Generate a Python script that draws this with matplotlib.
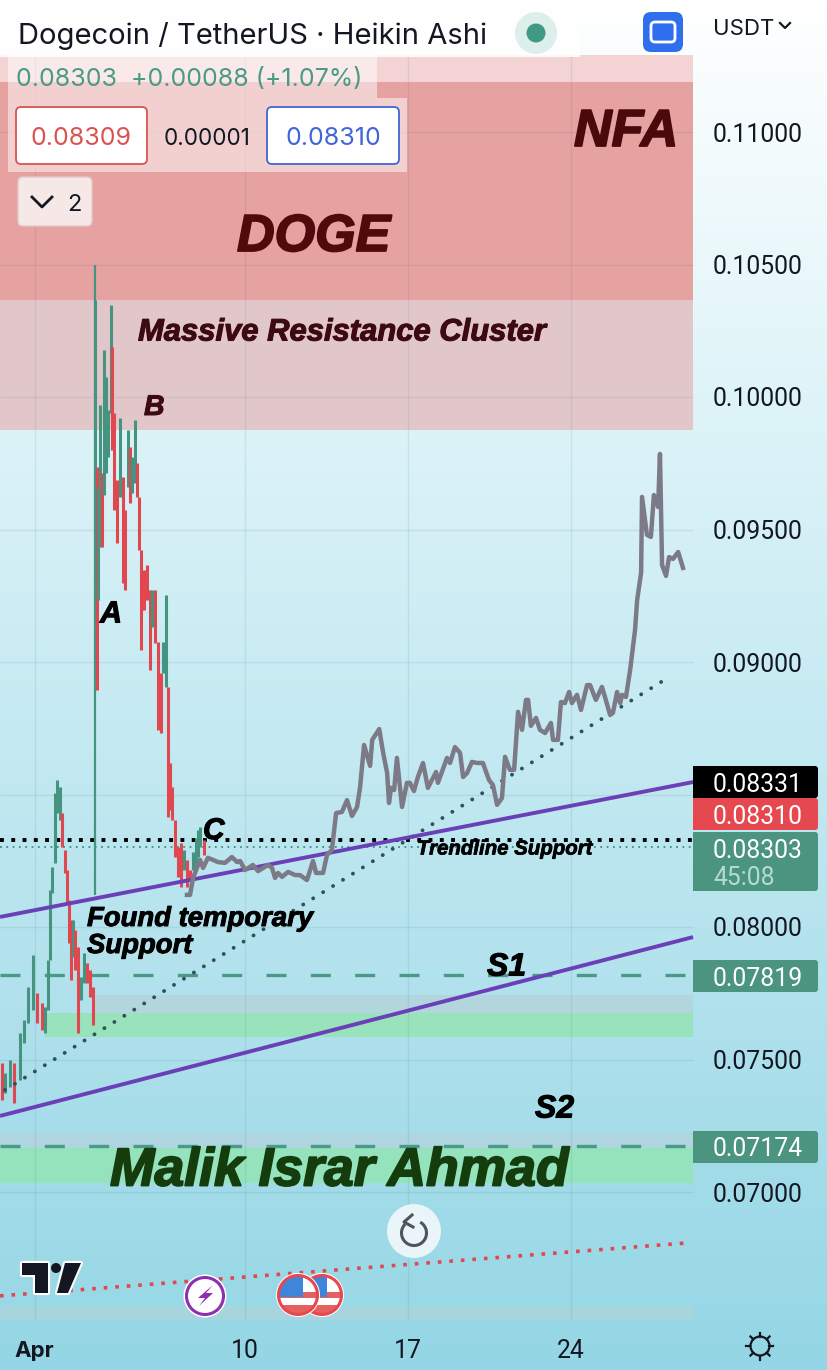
import numpy as np
import matplotlib
matplotlib.use("Agg")
import matplotlib.pyplot as plt
import matplotlib.patheffects as pe
import matplotlib.transforms as mtrans
from matplotlib.patches import Rectangle, Circle, FancyBboxPatch, Polygon, Arc

plt.rcParams['font.family'] = ['Inter', 'DejaVu Sans']

# price ticks and date ticks
tick_prices = [0.11, 0.105, 0.10, 0.095, 0.09, 0.08, 0.075, 0.07]
tick_labels = ['0.11000', '0.10500', '0.10000', '0.09500', '0.09000', '0.08000', '0.07500', '0.07000']
grid_prices = [0.11, 0.105, 0.10, 0.095, 0.09, 0.085, 0.08, 0.075, 0.07]
date_ticks = [1, 10, 17, 24]
date_labels = ['Apr', '10', '17', '24']

# heikin ashi candles, day of april
candle_day = [-0.43, -0.30, -0.09, 0.09, 0.34, 0.51, 0.69, 0.90, 1.07, 1.29, 1.42, 1.55, 1.63, 1.72, 1.85, 1.93,
              2.06, 2.15, 2.27, 2.36, 2.45, 2.53, 2.62, 2.70, 2.83, 2.96, 3.09, 3.22, 3.35, 3.48, 3.56, 3.65,
              3.69, 3.78, 3.86, 3.95, 4.03, 4.12, 4.25, 4.29, 4.38, 4.51, 4.64, 4.76, 4.85, 4.98, 5.06, 5.15,
              5.28, 5.36, 5.45, 5.54, 5.67, 5.79, 5.92, 6.01, 6.14, 6.27, 6.40, 6.48, 6.61, 6.70, 6.78, 6.87,
              7.00, 7.12, 7.25, 7.38, 7.51, 7.64, 7.77, 7.90, 7.98, 8.07, 8.24]
candle_high = [0.07487, 0.07449, 0.07498, 0.07487, 0.07600, 0.07649, 0.07774, 0.07894, 0.07751, 0.07713, 0.07698, 0.07876, 0.08140, 0.08227, 0.08506, 0.08555,
               0.08528, 0.08430, 0.08291, 0.08215, 0.08102, 0.08027, 0.08027, 0.07989, 0.07925, 0.07811, 0.07902, 0.07864, 0.07838, 0.07774, 0.10366, 0.09736,
               0.09657, 0.09970, 0.09714, 0.10178, 0.10076, 0.09951, 0.10348, 0.10189, 0.09940, 0.09687, 0.09921, 0.09698, 0.09574, 0.09876, 0.09812, 0.09774,
               0.09913, 0.09751, 0.09623, 0.09423, 0.09347, 0.09366, 0.09272, 0.09272, 0.09272, 0.09076, 0.08959, 0.09076, 0.09253, 0.08906, 0.08619, 0.08528,
               0.08404, 0.08302, 0.08317, 0.08291, 0.08253, 0.08215, 0.08283, 0.08336, 0.08366, 0.08378, 0.08328]
candle_low = [0.07347, 0.07374, 0.07396, 0.07336, 0.07423, 0.07562, 0.07638, 0.07687, 0.07638, 0.07611, 0.07600, 0.07687, 0.07876, 0.08128, 0.08242, 0.08430,
              0.08404, 0.08302, 0.08204, 0.08091, 0.07940, 0.07800, 0.07887, 0.07838, 0.07600, 0.07725, 0.07789, 0.07789, 0.07736, 0.07630, 0.08932, 0.08895,
              0.09234, 0.09434, 0.09434, 0.09630, 0.09714, 0.09774, 0.09940, 0.09800, 0.09574, 0.09449, 0.09623, 0.09298, 0.09272, 0.09661, 0.09600, 0.09638,
              0.09676, 0.09623, 0.09423, 0.09045, 0.09196, 0.09234, 0.08970, 0.09132, 0.09072, 0.08744, 0.08732, 0.08959, 0.08906, 0.08415, 0.08442, 0.08404,
              0.08264, 0.08189, 0.08151, 0.08215, 0.08151, 0.08177, 0.08215, 0.08215, 0.08264, 0.08302, 0.08272]
candle_up = [0, 1, 1, 0, 1, 1, 1, 1, 0, 0, 1, 1, 1, 1, 1, 1,
             1, 0, 0, 0, 0, 0, 1, 0, 0, 1, 1, 0, 0, 0, 1, 0,
             1, 1, 0, 1, 1, 1, 1, 0, 0, 0, 1, 0, 0, 1, 0, 1,
             1, 0, 0, 0, 0, 0, 0, 1, 0, 0, 0, 1, 1, 0, 0, 0,
             0, 0, 0, 1, 0, 0, 1, 1, 1, 1, 0]

# the long upper and lower shadow of the spike candle
spike_day = 3.56
spike_high = 0.10498
spike_low = 0.08121

# line series on the right side of the candles
line_day = [7.51, 7.64, 7.77, 8.07, 8.20, 8.41, 8.63, 8.84, 9.14, 9.44, 9.66, 9.79, 10.00, 10.34, 10.56, 10.99, 11.16,
            11.29, 11.42, 11.59, 11.85, 12.15, 12.36, 12.66, 12.92, 13.05, 13.35, 13.52, 13.73, 13.91, 14.16, 14.38,
            14.59, 14.81, 14.94, 15.11, 15.37, 15.46, 15.76, 15.93, 16.10, 16.18, 16.27, 16.40, 16.52, 16.74, 16.95,
            17.08, 17.25, 17.42, 17.64, 17.85, 18.20, 18.28, 18.67, 18.80, 19.01, 19.23, 19.36, 19.53, 19.74, 19.96,
            20.21, 20.47, 20.64, 20.82, 21.03, 21.16, 21.37, 21.55, 21.72, 21.89, 22.06, 22.15, 22.27, 22.49, 22.66,
            22.88, 23.13, 23.22, 23.43, 23.56, 23.73, 23.91, 24.03, 24.25, 24.42, 24.68, 24.81, 25.06, 25.32, 25.45,
            25.67, 25.79, 25.97, 26.10, 26.18, 26.35, 26.53, 26.74, 26.83, 27.00, 27.04, 27.25, 27.42, 27.55, 27.73,
            27.81, 27.90, 28.07, 28.20, 28.37, 28.59, 28.80]
line_price = [0.08121, 0.08121, 0.08185, 0.08253, 0.08223, 0.08261, 0.08253, 0.08245, 0.08242, 0.08264, 0.08245, 0.08249, 0.08215, 0.08234, 0.08211, 0.08234, 0.08223,
              0.08185, 0.08204, 0.08189, 0.08208, 0.08196, 0.08196, 0.08177, 0.08249, 0.08204, 0.08204, 0.08272, 0.08291, 0.08430, 0.08434, 0.08479,
              0.08419, 0.08453, 0.08528, 0.08687, 0.08608, 0.08706, 0.08747, 0.08657, 0.08581, 0.08468, 0.08525, 0.08517, 0.08638, 0.08453, 0.08544,
              0.08544, 0.08513, 0.08566, 0.08619, 0.08525, 0.08585, 0.08544, 0.08638, 0.08619, 0.08679, 0.08657, 0.08566, 0.08581, 0.08623, 0.08619,
              0.08619, 0.08555, 0.08536, 0.08461, 0.08487, 0.08642, 0.08593, 0.08593, 0.08812, 0.08744, 0.08857, 0.08857, 0.08759, 0.08789, 0.08744,
              0.08732, 0.08770, 0.08706, 0.08706, 0.08849, 0.08845, 0.08887, 0.08845, 0.08876, 0.08819, 0.08913, 0.08913, 0.08857, 0.08906, 0.08868,
              0.08800, 0.08808, 0.08887, 0.08845, 0.08876, 0.08868, 0.08970, 0.09121, 0.09234, 0.09336, 0.09623, 0.09480, 0.09472, 0.09630, 0.09585,
              0.09785, 0.09366, 0.09325, 0.09396, 0.09389, 0.09415, 0.09355]

# drawn trendlines, day then price
support_day = [-0.515, 29.23]
support_a = [0.08038, 0.08547]
support_b = [0.07287, 0.07962]
rising_day = [-0.30, 27.94]
rising_price = [0.07385, 0.08929]
red_day = [-0.515, 29.0]
red_price = [0.06608, 0.06808]

# levels
bid_level = 0.08328
last_level = 0.08303
s1_level = 0.07819
s2_level = 0.07174

# zones, price low / high
zone_top = (0.11189, 0.11291)
zone_red = (0.10366, 0.11189)
zone_pink = (0.09876, 0.10366)
zone_green1 = (0.07585, 0.07676)
zone_gray1 = (0.07676, 0.07743)
zone_green2 = (0.07034, 0.07166)
zone_gray2 = (0.07166, 0.07223)
zone_gray3 = (0.06517, 0.0657)

W, H = 828, 1370
PX_DAY = 23.3
PX_PRICE = 26500.0
CHART_RIGHT = 693
CHART_BOTTOM = 1320

fig = plt.figure(figsize=(W / 100, H / 100), dpi=100)
ax = fig.add_axes([0, 0, 1, 1])
ax.set_xlim(1 - 35.3 / PX_DAY, 1 + (W - 35.3) / PX_DAY)
ax.set_ylim(0.07 - (H - 1192) / PX_PRICE, 0.07 + 1192 / PX_PRICE)
ax.axis('off')
day_right = ax.get_xlim()[0] + CHART_RIGHT / PX_DAY

# background gradient over the full picture
stops = [0, 430, 1370]
stop_cols = np.array([[255, 255, 255], [220, 243, 248], [148, 214, 229]]) / 255.0
rows = np.arange(H)
grad = np.stack([np.interp(rows, stops, stop_cols[:, i]) for i in range(3)], axis=1)[:, None, :]
ax.imshow(grad, extent=(*ax.get_xlim(), *ax.get_ylim()), aspect='auto', zorder=0, origin='upper')


def zone(bounds, color, start=None, alpha=1.0):
    x0 = ax.get_xlim()[0] if start is None else start
    ax.add_patch(Rectangle((x0, bounds[0]), day_right - x0, bounds[1] - bounds[0],
                           fc=color, ec='none', alpha=alpha, zorder=1))


zone(zone_top, '#f3d3d3')
zone(zone_red, '#e6a1a1')
zone(zone_pink, '#e2c7ca')
zone(zone_gray1, '#b3d6de', start=3.56)
zone(zone_green1, '#98e3bb', start=1.42)
zone(zone_gray2, '#aed5e0')
zone(zone_green2, '#94e3bc')
zone(zone_gray3, '#a6d5dd')

# grid stops at the price column
bottom_price = ax.get_ylim()[1] - CHART_BOTTOM / PX_PRICE
top_price = ax.get_ylim()[1] - 55 / PX_PRICE
ax.hlines(grid_prices, ax.get_xlim()[0], day_right, color='#4a7a85', alpha=0.13, lw=1, zorder=2)
ax.vlines(date_ticks, bottom_price, top_price, color='#4a7a85', alpha=0.13, lw=1, zorder=2)

# levels
ax.hlines(last_level, ax.get_xlim()[0], day_right, color='#3f8f80', lw=1.3, linestyles=[(0, (1, 2.5))], zorder=3)
ax.plot([ax.get_xlim()[0], day_right], [bid_level, bid_level], color='black', lw=2.8,
        linestyle=(0, (1, 1.9)), dash_capstyle='butt', zorder=3)
for lev in (s1_level, s2_level):
    ax.plot([ax.get_xlim()[0], day_right], [lev, lev], color='#4a9a87', lw=2.4,
            linestyle=(0, (6, 7.3)), dash_capstyle='butt', zorder=3)

# candles
up_col, down_col = '#45947f', '#e0474f'
cols = [up_col if u else down_col for u in candle_up]
ax.vlines(spike_day, spike_low, spike_high, color=up_col, lw=1.6, zorder=4)
ax.vlines(candle_day, candle_low, candle_high, colors=cols, lw=2.2, zorder=4)

# trendlines
ax.plot(support_day, support_a, color='#6a3fb8', lw=2.8, solid_capstyle='butt', zorder=6)
ax.plot(support_day, support_b, color='#6a3fb8', lw=2.8, solid_capstyle='butt', zorder=6)
ax.plot(rising_day, rising_price, color='#2f5058', lw=2.8, linestyle=(0, (0.01, 3)),
        dash_capstyle='round', zorder=5)
ax.plot(red_day, red_price, color='#e0484f', lw=2.6, linestyle=(0, (1, 2.2)), dash_capstyle='butt', zorder=5)

# grey line
ax.plot(line_day, line_price, color='#7c7a86', lw=3.2, solid_joinstyle='round', zorder=7)

# overlay in pixels for the app chrome and the hand written notes
ov = fig.add_axes([0, 0, 1, 1], facecolor='none')
ov.set_xlim(0, W)
ov.set_ylim(H, 0)
ov.axis('off')

NOTE = ['Liberation Sans', 'DejaVu Sans']
MID = 'center_baseline'


def note(x, y, s, size, color='black'):
    t = ov.text(x, y, s, fontsize=size, color=color, family=NOTE, weight='bold', style='italic',
                ha='left', va=MID, zorder=8)
    t.set_path_effects([pe.withStroke(linewidth=size * 0.035, foreground=color)])


def box(x0, y0, x1, y1, fc, ec='none', lw=0, r=5, alpha=1.0, z=9):
    ov.add_patch(FancyBboxPatch((x0 + r, y0 + r), x1 - x0 - 2 * r, y1 - y0 - 2 * r,
                                boxstyle=f'round,pad={r},rounding_size={r}',
                                fc=fc, ec=ec, lw=lw, alpha=alpha, zorder=z))


note(574, 127, 'NFA', 37.5, '#4a0a0c')
note(237, 232, 'DOGE', 37.5, '#4f0a0c')
note(138, 329, 'Massive Resistance Cluster', 22.3, '#3d0a12')
note(144, 405, 'B', 20.5, '#3d0a12')
note(100, 611, 'A', 22)
note(203, 828, 'C', 21.5)
note(87, 916, 'Found temporary', 19.8)
note(87, 943, 'Support', 19.8)
note(417, 847, 'Trendline Support', 14.7)
note(487, 964, 'S1', 23)
note(535, 1106, 'S2', 23)
note(110, 1166, 'Malik Israr Ahmad', 38.5, '#143c0c')

# header
ov.add_patch(Rectangle((0, 0), 580, 57, fc='white', ec='none', alpha=0.85, zorder=9))
ov.text(18, 33, 'Dogecoin / TetherUS · Heikin Ashi', fontsize=21, color='#131722', va=MID, zorder=10)
ov.add_patch(Rectangle((8, 55), 369, 43, fc='white', ec='none', alpha=0.5, zorder=9))
ov.add_patch(Rectangle((8, 98), 399, 74, fc='white', ec='none', alpha=0.5, zorder=9))
ov.text(16, 77, '0.08303  +0.00088 (+1.07%)', fontsize=18, color='#4a9a85', va=MID, zorder=10)
box(16, 107, 147, 164, 'white', '#d9534f', 1.3)
ov.text(81.5, 136, '0.08309', fontsize=18, color='#d9534f', ha='center', va=MID, zorder=10)
ov.text(207, 136, '0.00001', fontsize=16.2, color='#131722', ha='center', va=MID, zorder=10)
box(267, 107, 399, 164, 'white', '#3f66d6', 1.3)
ov.text(333, 136, '0.08310', fontsize=18, color='#3f66d6', ha='center', va=MID, zorder=10)
box(18, 177, 92, 226, '#f7e8e8', '#e3c9c9', 1)
ov.plot([32, 42, 52], [197, 207, 197], color='#131722', lw=2, zorder=10)
ov.text(74, 202, '2', fontsize=17, color='#131722', ha='center', va=MID, zorder=10)

# live dot, fullscreen button, currency
ov.add_patch(Circle((536, 33), 21, fc='#dcefeb', ec='none', zorder=10))
ov.add_patch(Circle((536, 33), 9.5, fc='#3f9a84', ec='none', zorder=11))
box(643, 12, 683, 52, '#2f6fed', r=8, z=10)
box(651, 22, 675, 42, 'none', 'white', 2, r=4, z=11)
ov.text(713, 27, 'USDT', fontsize=16, color='#131722', va=MID, zorder=10)
ov.plot([780, 785, 790], [23, 28, 23], color='#131722', lw=1.6, zorder=10)

# price axis, labels follow the price scale
ylab = mtrans.blended_transform_factory(ov.transData, ax.transData)
NUM = ['Roboto', 'DejaVu Sans']
for p, lab in zip(tick_prices, tick_labels):
    ov.text(713, p, lab, transform=ylab, fontsize=17.8, family=NUM, color='#131722', va=MID, zorder=10)


def tag(y0, y1, color, label, sub=None):
    box(693, y0, 818, y1, color, r=3, z=10)
    ov.add_patch(Rectangle((693, y0), 6, y1 - y0, fc=color, ec='none', zorder=10))
    if sub is None:
        ov.text(713, (y0 + y1) / 2, label, fontsize=17.8, family=NUM, color='white', va=MID, zorder=11)
    else:
        ov.text(713, y0 + 16, label, fontsize=17.8, family=NUM, color='white', va=MID, zorder=11)
        ov.text(713, y0 + 43, sub, fontsize=17.8, family=NUM, color='#b5dcd2', va=MID, zorder=11)


tag(766, 798, 'black', '0.08331')
tag(798, 830, '#e5484f', '0.08310')
tag(832, 891, '#4a9480', '0.08303', '45:08')
tag(960, 992, '#4a9480', '0.07819')
tag(1131, 1163, '#4a9480', '0.07174')

# date axis
xlab = mtrans.blended_transform_factory(ax.transData, ov.transData)
for d, lab in zip(date_ticks, date_labels):
    if lab == 'Apr':
        ov.text(14, 1349, lab, fontsize=16, weight='bold', color='#131722', ha='left', va=MID, zorder=10)
    else:
        ov.text(d, 1349, lab, transform=xlab, fontsize=17.8, family=NUM, color='#131722', ha='center', va=MID, zorder=10)

# tradingview logo
logo = [[(22, 1263), (48, 1263), (48, 1293), (35, 1293), (35, 1275), (22, 1275)],
        [(65, 1263), (81, 1263), (68, 1293), (57, 1293)]]
for pts in logo:
    ov.add_patch(Polygon(pts, closed=True, fc='#131722', ec='white', lw=3, joinstyle='round', zorder=10))
for pts in logo:
    ov.add_patch(Polygon(pts, closed=True, fc='#131722', ec='none', zorder=11))
ov.add_patch(Circle((56, 1268), 5, fc='#131722', ec='none', zorder=11))

# reset button
ov.add_patch(Circle((414, 1231), 27, fc='#e9f5f8', ec='none', zorder=10))
ov.add_patch(Arc((414, 1233), 25, 25, theta1=-60, theta2=225, color='#50535e', lw=2.2, zorder=11))
ov.plot([412, 404, 413], [1215, 1222, 1227], color='#50535e', lw=2.2, zorder=11)

# event icons
ov.add_patch(Circle((205, 1296), 21.5, fc='white', ec='none', zorder=10))
ov.add_patch(Circle((205, 1296), 18.5, fc='white', ec='#8e2fb0', lw=2.2, zorder=11))
ov.add_patch(Polygon([(213, 1285), (198, 1298), (205, 1298), (199, 1306), (213, 1293), (206, 1293)],
                     closed=True, fc='#8e2fb0', ec='none', zorder=12))
for cx, z in ((322, 12), (298, 14)):
    ov.add_patch(Circle((cx, 1295), 22, fc='white', ec='none', zorder=z))
    disc = Circle((cx, 1295), 19.5, fc='white', ec='#e5484f', lw=2.2, zorder=z + 2)
    disc_bg = Circle((cx, 1295), 19.5, fc='white', ec='none', zorder=z)
    ov.add_patch(disc_bg)
    for y0, h in ((1292, 6), (1305, 10)):
        stripe = Rectangle((cx - 20, y0), 40, h, fc='#e5605f', ec='none', zorder=z + 1)
        ov.add_patch(stripe)
        stripe.set_clip_path(disc_bg)
    canton = Rectangle((cx - 20, 1275), 25, 22, fc='#3d86dc', ec='none', zorder=z + 1)
    ov.add_patch(canton)
    canton.set_clip_path(disc_bg)
    disc.set_facecolor('none')
    ov.add_patch(disc)

# settings gear
ov.add_patch(Circle((760, 1346), 9.5, fc='none', ec='#131722', lw=1.6, zorder=10))
for a in np.arange(0, 360, 45):
    ca, sa = np.cos(np.radians(a)), np.sin(np.radians(a))
    ov.plot([760 + 9.5 * ca, 760 + 13.5 * ca], [1346 + 9.5 * sa, 1346 + 13.5 * sa],
            color='#131722', lw=1.6, zorder=10)

fig.savefig('out.png', dpi=100)
